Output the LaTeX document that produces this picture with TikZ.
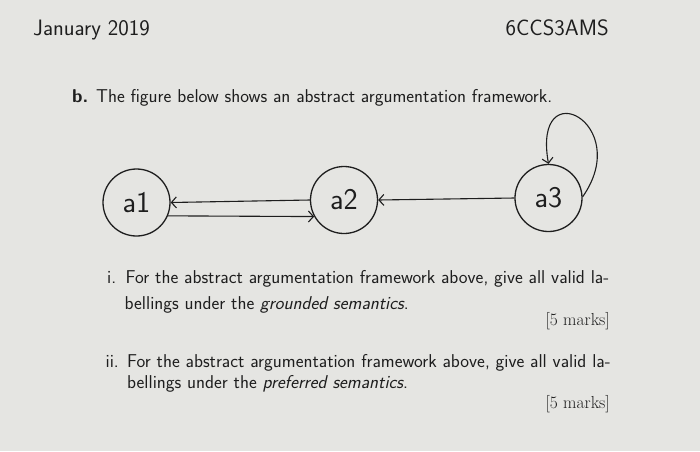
\documentclass[tikz,border=0pt]{standalone}
\usetikzlibrary{arrows.meta}
\definecolor{paper}{RGB}{229,229,226}
\definecolor{ink}{RGB}{30,30,30}
\begin{document}
\begin{tikzpicture}[x=1pt,y=1pt,
  arg/.style={circle,draw=ink,line width=1.3pt,minimum size=67pt,inner sep=0pt,font=\sffamily\fontsize{30}{34}\selectfont,text=ink},
  att/.style={draw=ink,line width=1.1pt,-{Straight Barb[length=5pt,width=11pt,line width=1.1pt]}},
  hdr/.style={anchor=base west,inner sep=0pt,text=ink,font=\sffamily\fontsize{22.3}{26}\selectfont},
  body/.style={anchor=base west,inner sep=0pt,text=ink,font=\sffamily\fontsize{18.6}{22}\selectfont},
  marks/.style={anchor=base east,inner sep=0pt,text=ink,font=\rmfamily\fontsize{17.4}{20}\selectfont}]
\fill[paper] (0,0) rectangle (700,-451);
\useasboundingbox (0,0) rectangle (700,-451);
% header
\node[hdr] (date) at (33,-35) {January 2019};
\node[hdr,anchor=base east] (code) at (609,-35) {6CCS3AMS};
\node[body] (qb) at (72,-102) {\textbf{b.} The figure below shows an abstract argumentation framework.};
% graph
\node[arg] (a1) at (136.5,-202.5) {a1};
\node[arg] (a2) at (344,-200) {a2};
\node[arg] (a3) at (548.5,-198) {a3};
\draw[att] (a2.west) -- (a1.east);
\draw[att] (a1.-23) -- (a2.209);
\draw[att] (a3.west) -- (a2.east);
\draw[att] (a3.2) .. controls +(55:90) and +(100:95) .. (a3.90);
% items
\node[body] (i) at (107,-283) {i.};
\node[body] (i1) at (125.5,-283) {For the abstract argumentation framework above, give all valid la-};
\node[body] (i2) at (124.5,-309) {bellings under the \textit{grounded semantics}.};
\node[marks] (im) at (610,-325) {[5 marks]};
\node[body] (ii) at (105.5,-367) {ii.};
\node[body] (ii1) at (127,-367) {For the abstract argumentation framework above, give all valid la-};
\node[body] (ii2) at (127,-388) {bellings under the \textit{preferred semantics}.};
\node[marks] (iim) at (610,-408) {[5 marks]};
\end{tikzpicture}
\end{document}
